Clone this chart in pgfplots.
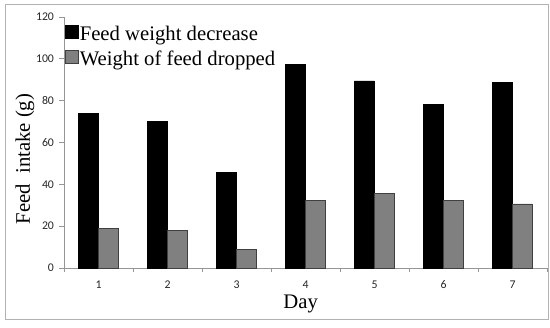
\documentclass[border=0pt]{standalone}
\usepackage{fontspec}
\setmainfont{Liberation Serif}
\newfontfamily\tickfont{Carlito}
\usepackage{pgfplots}
\pgfplotsset{compat=1.18}
\definecolor{bargray}{RGB}{128,128,128}
\definecolor{axgray}{RGB}{150,150,150}
\begin{document}
\begin{tikzpicture}
\path[use as bounding box] (0,0) rectangle (550pt,328pt);
\draw[black!30, line width=1pt] (5pt,8pt) rectangle (548pt,323pt);
\begin{axis}[
  at={(64pt,60pt)}, anchor=south west,
  width=483pt, height=251pt, scale only axis,
  xmin=0.5, xmax=7.5, ymin=0, ymax=120,
  enlargelimits=false, clip=false,
  ybar=0pt, bar width=20pt,
  axis x line*=bottom, axis y line*=left,
  axis line style={axgray, line width=0.8pt, -},
  xtick={1,...,7}, minor xtick={0.5,1.5,...,7.5},
  ytick={0,20,...,120},
  tick align=outside,
  major x tick style={draw=none},
  tick style={axgray, line width=0.8pt},
  major tick length=4.5pt, minor tick length=4pt,
  ticklabel style={font=\tickfont\fontsize{11.8}{13}\selectfont, black!85},
  xticklabel style={yshift=-5pt},
  yticklabel style={xshift=-2pt},
  /pgf/number format/assume math mode=true,
  xlabel={Day},
  xlabel style={at={(rel axis cs:0.49,-0.1434)}, anchor=center, font=\fontsize{20.7}{24}\selectfont},
  ylabel={Feed\ \ intake (g)},
  ylabel style={at={(rel axis cs:-0.0807,0.434)}, anchor=center, font=\fontsize{20.7}{24}\selectfont},
  legend style={at={(rel axis cs:0,1)}, anchor=north west, yshift=-7pt, xshift=0.5pt,
    draw=none, fill=none, font=\fontsize{20.7}{24}\selectfont,
    inner sep=0pt, row sep=6pt, nodes={inner sep=1.5pt}},
  legend cell align=left,
  legend image code/.code={\draw[#1] (0pt,-5pt) rectangle (13pt,8pt);},
]
\addplot[fill=black, draw=black] coordinates {(1,74) (2,70.1) (3,45.7) (4,97.2) (5,89.5) (6,78.2) (7,88.6)};
\addplot[fill=bargray, draw=black!75, line width=0.6pt] coordinates {(1,18.9) (2,18) (3,8.7) (4,32.2) (5,35.7) (6,32.4) (7,30.6)};
\legend{Feed weight decrease, Weight of feed dropped}
\end{axis}
\end{tikzpicture}
\end{document}
